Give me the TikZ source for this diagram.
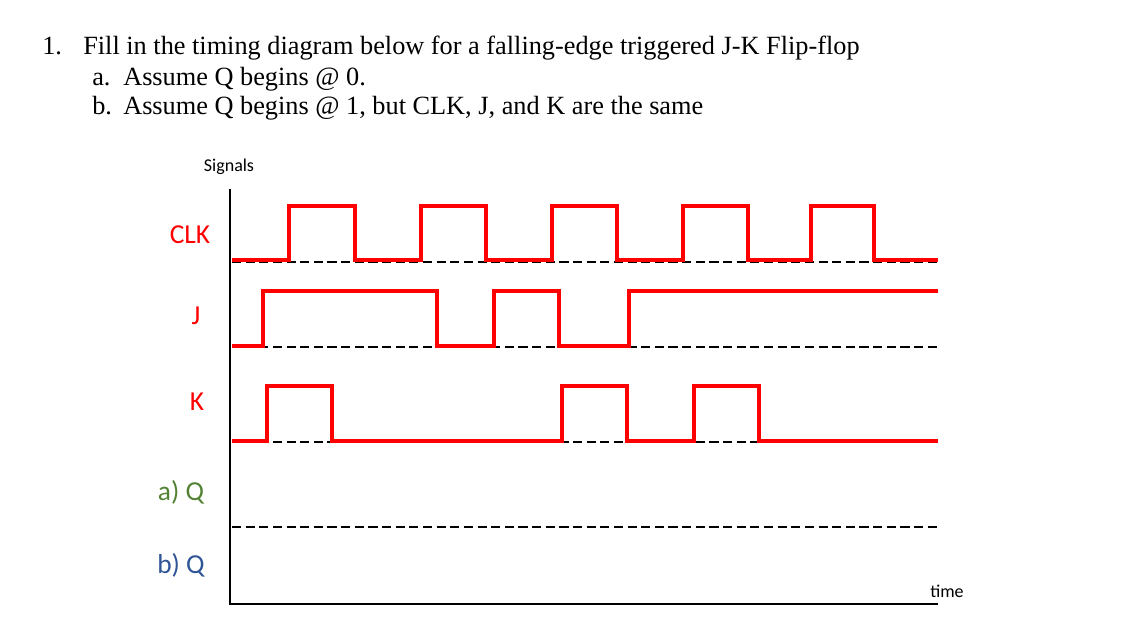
\documentclass[tikz,border=0pt]{standalone}
\usepackage{fontspec}
\setmainfont{Liberation Serif}
\newfontfamily\calibri{Carlito}
\usetikzlibrary{positioning}
\definecolor{qgreen}{HTML}{548235}
\definecolor{qblue}{HTML}{2F5597}

\begin{document}
\begin{tikzpicture}[x=0.025cm, y=-0.025cm,
    wave/.style={red, line width=2.2pt, line join=miter},
    zeroline/.style={black, line width=2.1pt, dash pattern=on 6.5pt off 3.2pt},
    axis/.style={black, line width=2.1pt},
    heading/.style={anchor=base west, inner sep=0pt, font=\fontsize{18.7}{22}\selectfont},
    siglabel/.style={inner sep=0pt, font=\calibri\fontsize{19.5}{22}\selectfont},
    small/.style={inner sep=0pt, font=\calibri\fontsize{12.8}{14}\selectfont}
]
\useasboundingbox (0,0) rectangle (1125,633);

% Question text
\node[heading] (num) at (42,54) {1.};
\node[heading] (task) at (83,54) {Fill in the timing diagram below for a falling-edge triggered J-K Flip-flop};
\node[heading] (parta) at (92,85) {a.};
\node[heading] (taska) at (123,85) {Assume Q begins @ 0.};
\node[heading] (partb) at (92,114) {b.};
\node[heading] (taskb) at (123,114) {Assume Q begins @ 1, but CLK, J, and K are the same};

% Signal names
\node[small] (signals) at (229,167) {Signals};
\node[siglabel, red] (clk) at (190,235) {CLK};
\node[siglabel, red] (j) at (196,316) {J};
\node[siglabel, red] (k) at (197,402) {K};
\node[siglabel, qgreen] (qa) at (181,492) {a) Q};
\node[siglabel, qblue] (qb) at (181,565) {b) Q};
\node[small] (time) at (947,591) {time};

% Zero levels
\draw[zeroline] (232,262) -- (938,262);
\draw[zeroline] (232,347) -- (938,347);
\draw[zeroline] (232,442) -- (938,442);
\draw[zeroline] (232,527) -- (938,527);

% Clock
\draw[wave] (232,260) -- (289,260) -- (289,206) -- (355,206) -- (355,260)
    -- (421,260) -- (421,206) -- (486,206) -- (486,260)
    -- (552,260) -- (552,206) -- (617,206) -- (617,260)
    -- (683,260) -- (683,206) -- (748,206) -- (748,260)
    -- (811,260) -- (811,206) -- (874,206) -- (874,260) -- (938,260);

% J input
\draw[wave] (232,346) -- (263,346) -- (263,291) -- (437,291) -- (437,346)
    -- (494,346) -- (494,291) -- (559,291) -- (559,346)
    -- (629,346) -- (629,291) -- (938,291);

% K input
\draw[wave] (232,441) -- (267,441) -- (267,386) -- (332,386) -- (332,441)
    -- (562,441) -- (562,386) -- (627,386) -- (627,441)
    -- (694,441) -- (694,386) -- (759,386) -- (759,441) -- (938,441);

% Axes
\draw[axis] (230,189) -- (230,604) -- (938,604);

\end{tikzpicture}
\end{document}
